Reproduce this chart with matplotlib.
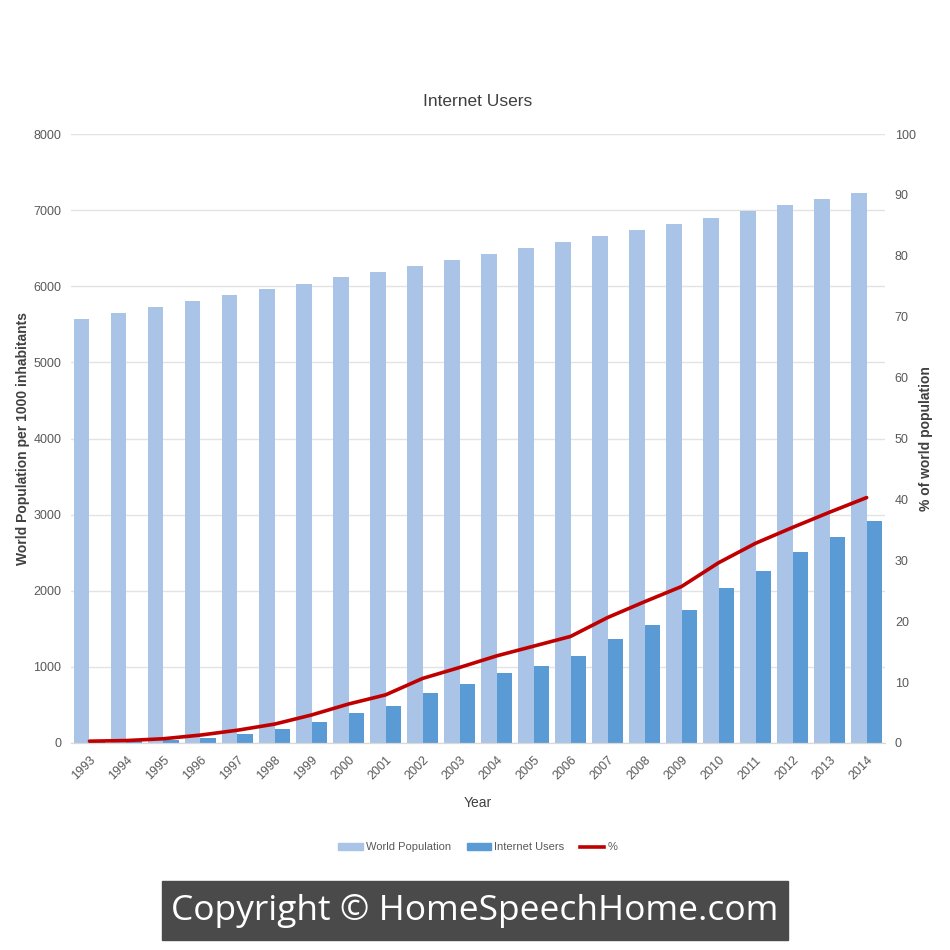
import numpy as np
import matplotlib
matplotlib.use("Agg")
import matplotlib.pyplot as plt
from matplotlib.patches import Patch, Rectangle
from matplotlib.lines import Line2D

years = [str(y) for y in range(1993, 2015)]
world_pop = [5570, 5644, 5732, 5806, 5889, 5960, 6034, 6117, 6192, 6266, 6341,
             6428, 6497, 6581, 6660, 6739, 6814, 6901, 6985, 7068, 7151, 7222]
internet_users = [14, 25, 40, 60, 114, 180, 276, 390, 490, 661, 775,
                  916, 1016, 1147, 1366, 1554, 1743, 2032, 2264, 2505, 2702, 2913]
pct = [0.3, 0.4, 0.7, 1.3, 2.1, 3.1, 4.6, 6.4, 7.9, 10.6, 12.4,
       14.3, 15.9, 17.5, 20.6, 23.2, 25.7, 29.6, 32.8, 35.4, 37.9, 40.3]

light = '#A9C4E6'
dark = '#5B9BD5'
red = '#C00000'
txt = '#595959'

plt.rcParams['font.family'] = ['Liberation Sans', 'DejaVu Sans']

fig = plt.figure(figsize=(9.5, 9.5), dpi=100)
ax = fig.add_axes([0.0747, 0.2179, 0.857, 0.641])
ax2 = ax.twinx()

x = np.arange(len(years))
w = 0.42
ax.bar(x - w/2, world_pop, w, color=light, zorder=2)
ax.bar(x + w/2, internet_users, w, color=dark, zorder=2)
ax.set_xlim(-0.5, len(years) - 0.5)
ax.set_ylim(0, 8000)
ax.set_yticks(range(0, 8001, 1000))
ax.grid(axis='y', color='#E3E3E3', linewidth=1, zorder=0)
ax.set_axisbelow(True)

ax2.plot(x, pct, color=red, linewidth=2.6, solid_capstyle='round')
ax2.set_ylim(0, 100)
ax2.set_yticks(range(0, 101, 10))

for a in (ax, ax2):
    for s in ['top', 'left', 'right']:
        a.spines[s].set_visible(False)
    a.spines['bottom'].set_color('#D9D9D9')
    a.tick_params(length=0, labelsize=9, colors=txt)

ax.tick_params(axis='y', pad=7)
ax2.tick_params(axis='y', pad=7)
ax.set_xticks(x)
ax.set_xticklabels(years, rotation=45, ha='right', rotation_mode='anchor')
ax.tick_params(axis='x', pad=8)

ax.set_xlabel('Year', fontsize=10, color='#404040', labelpad=10)
ax.set_ylabel('World Population per 1000 inhabitants', fontsize=10,
              fontweight='bold', color='#404040', labelpad=2)
ax2.set_ylabel('% of world population', fontsize=10,
               fontweight='bold', color='#404040', labelpad=2, rotation=90)
ax.set_title('Internet Users', fontsize=12.5, color='#404040', pad=20)

handles = [Patch(color=light), Patch(color=dark),
           Line2D([0], [0], color=red, linewidth=2.6)]
fig.legend(handles, ['World Population', 'Internet Users', '%'],
           loc='center', bbox_to_anchor=(0.503, 0.108), ncol=3, frameon=False,
           fontsize=8, labelcolor=txt, handlelength=2.2, handleheight=0.6,
           columnspacing=1.4, handletextpad=0.3)

fig.patches.append(Rectangle((162/950, 10/950), 626/950, 59/950,
                             transform=fig.transFigure, color='#4A4A4A'))
fig.text(475/950, 39/950, 'Copyright \u00a9 HomeSpeechHome.com', color='white',
         fontsize=25.5, ha='center', va='center', family='Open Sans')

fig.savefig('out.png', dpi=100, facecolor='white')
